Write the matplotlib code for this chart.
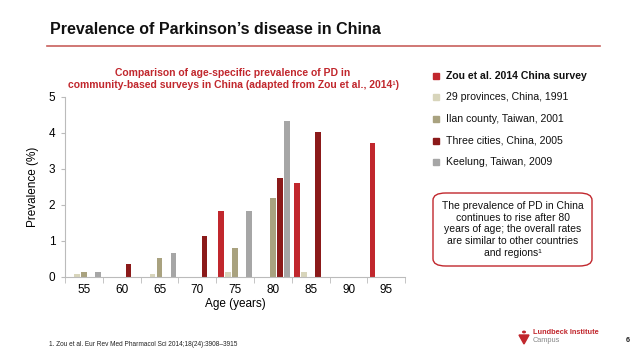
import numpy as np
import matplotlib.pyplot as plt
from matplotlib.patches import FancyBboxPatch, Polygon, Circle
from matplotlib.lines import Line2D

plt.rcParams['font.family'] = ['Liberation Sans', 'DejaVu Sans']

ages = ['55', '60', '65', '70', '75', '80', '85', '90', '95']
series_names = ['Zou et al. 2014 China survey', '29 provinces, China, 1991',
                'Ilan county, Taiwan, 2001', 'Three cities, China, 2005',
                'Keelung, Taiwan, 2009']
colors = ['#c1272d', '#d8d5bb', '#a9a27f', '#8b1a1a', '#a6a6a6']

zou = [0, 0, 0, 0, 1.82, 0, 2.60, 0, 3.70]
provinces_1991 = [0.08, 0, 0.08, 0, 0.13, 0, 0.12, 0, 0]
ilan_2001 = [0.13, 0, 0.53, 0, 0.80, 2.20, 0, 0, 0]
three_cities_2005 = [0, 0.36, 0, 1.12, 0, 2.75, 4.02, 0, 0]
keelung_2009 = [0.12, 0, 0.67, 0, 1.82, 4.33, 0, 0, 0]
series = [zou, provinces_1991, ilan_2001, three_cities_2005, keelung_2009]

W, H = 638, 359
def fx(px):
    return px / W
def fy(py):
    return 1 - py / H

fig = plt.figure(figsize=(6.38, 3.59), dpi=100)

# slide title + rule
fig.text(fx(50), fy(30), 'Prevalence of Parkinson\u2019s disease in China',
         fontsize=11.5, fontweight='bold', va='center', ha='left', color='#111111')
fig.add_artist(Line2D([fx(47), fx(600)], [fy(46), fy(46)],
                      color='#c8605c', lw=1.2))

ax = fig.add_axes([fx(65), fy(276.7), 340.3 / W, 180 / H])
x = np.arange(len(ages))
step = 0.185
width = 0.145
for i, (vals, c) in enumerate(zip(series, colors)):
    ax.bar(x + (i - 2) * step, vals, width=width, color=c, label=series_names[i])

ax.set_xlim(-0.5, len(ages) - 0.5)
ax.set_ylim(0, 5)
ax.set_xticks(x)
ax.set_xticklabels(ages)
ax.set_xticks(np.arange(-0.5, len(ages)), minor=True)
ax.tick_params(axis='x', which='major', length=0, labelsize=8.5, pad=5)
ax.tick_params(axis='x', which='minor', length=4, color='#bbbbbb')
ax.tick_params(axis='y', length=3, color='#bbbbbb', labelsize=8.5, pad=4)
ax.set_yticks(range(6))
for s in ['top', 'right']:
    ax.spines[s].set_visible(False)
for s in ['left', 'bottom']:
    ax.spines[s].set_color('#bbbbbb')
    ax.spines[s].set_linewidth(0.8)
ax.set_xlabel('Age (years)', fontsize=8.5, va='center')
ax.set_ylabel('Prevalence (%)', fontsize=8.5, va='center')
ax.xaxis.set_label_coords((235 - 65) / 340.3, (276.7 - 304) / 180)
ax.yaxis.set_label_coords((33 - 65) / 340.3, 0.5)

fig.text(fx(233), fy(79.5),
         'Comparison of age-specific prevalence of PD in\n'
         'community-based surveys in China (adapted from Zou et al., 2014\u00b9)',
         fontsize=7.5, fontweight='bold', color='#c1272d', ha='center',
         va='center', linespacing=1.25)

# legend
leg_y = [75.7, 96.7, 119, 140.7, 161.7]
for i, yy in enumerate(leg_y):
    fig.add_artist(Line2D([fx(436)], [fy(yy)], marker='s', markersize=4,
                          color=colors[i], linestyle='none'))
    fig.text(fx(446), fy(yy), series_names[i], fontsize=7.6,
             fontweight='bold' if i == 0 else 'normal', va='center',
             color='#111111')

# callout box
box = FancyBboxPatch((fx(433), fy(266)), 159 / W, 73 / H,
                     boxstyle='round,pad=0,rounding_size=0.02',
                     transform=fig.transFigure, fill=False,
                     edgecolor='#c1272d', lw=1)
fig.add_artist(box)
fig.text(fx(512.5), fy(229.5),
         'The prevalence of PD in China\ncontinues to rise after 80\n'
         'years of age; the overall rates\nare similar to other countries\n'
         'and regions\u00b9',
         fontsize=7.5, ha='center', va='center', linespacing=1.2,
         color='#111111')

# footer
fig.text(fx(49), fy(345),
         '1. Zou et al. Eur Rev Med Pharmacol Sci 2014;18(24):3908\u20133915',
         fontsize=4.7, va='center', color='#222222')
fig.text(fx(533), fy(333), 'Lundbeck Institute', fontsize=5.3,
         fontweight='bold', color='#c1272d', va='center')
fig.text(fx(533), fy(341), 'Campus', fontsize=5.3, color='#888888',
         va='center')
fig.add_artist(Circle((fx(524), fy(332)), 1.3 / W, color='#c1272d',
                      transform=fig.transFigure))
fig.add_artist(Polygon([[fx(519), fy(335)], [fx(529), fy(335)],
                        [fx(524), fy(344)]], closed=True,
                       color='#c1272d', transform=fig.transFigure))
fig.text(fx(626), fy(340), '6', fontsize=5.3, fontweight='bold',
         va='center', color='#222222')

fig.savefig('out.png', dpi=100)
